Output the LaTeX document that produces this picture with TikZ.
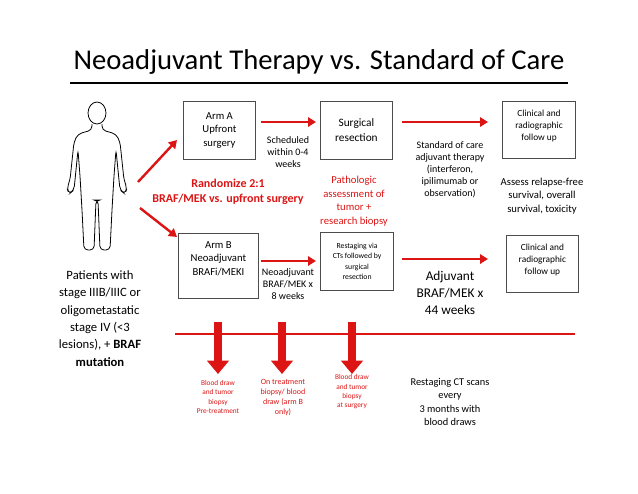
\documentclass[tikz,border=0pt]{standalone}
\usepackage{fontspec}
\setmainfont{Carlito}
\usetikzlibrary{arrows.meta,calc}
\definecolor{rd}{RGB}{220,20,20}
\begin{document}
\begin{tikzpicture}[x=0.75pt,y=-0.75pt,
 box/.style={draw=black!70,line width=0.6pt,align=center,inner sep=0pt,anchor=north west},
 arr/.style={rd,line width=1.8pt,-{Triangle[length=6pt,width=7pt]}},
 big/.style={rd,line width=6pt,-{Triangle[length=10pt,width=16pt]}},
 lbl/.style={align=center,font=\fontsize{7.5}{9}\selectfont},
 rl/.style={align=center,text=rd,font=\fontsize{5.5}{7}\selectfont}]
\useasboundingbox (0,0) rectangle (638,493);
\node[font=\fontsize{21.5}{24}\selectfont] (title) at (319,62) {Neoadjuvant Therapy vs. Standard of Care};
\draw[line width=0.8pt] (70,83) -- (568,83);
\node[box,minimum width=54pt,minimum height=43.5pt,font=\fontsize{8}{10}\selectfont] (a) at (183,101) {};
\node[align=center,font=\fontsize{8}{10}\selectfont] at (a.center) {Arm A\\Upfront\\surgery};
\node[box,minimum width=54pt,minimum height=43.5pt] (s) at (320,101) {};
\node[align=center,font=\fontsize{8.5}{11}\selectfont] at (s.center) {Surgical\\resection};
\node[box,minimum width=55pt,minimum height=43pt] (c1) at (502,101) {};
\node[align=center,font=\fontsize{7}{9}\selectfont,anchor=north] at ($(c1.north)+(0,4)$) {Clinical and\\radiographic\\follow up};
\node[box,minimum width=60pt,minimum height=49pt] (b) at (178,233) {};
\node[align=center,font=\fontsize{8}{10}\selectfont,anchor=north] at ($(b.north)+(0,4)$) {Arm B\\Neoadjuvant\\BRAFi/MEKI};
\node[box,minimum width=55pt,minimum height=43.5pt] (r) at (320,232) {};
\node[align=center,font=\fontsize{5.8}{7.6}\selectfont] at (r.center) {Restaging via\\CTs followed by\\surgical\\resection};
\node[box,minimum width=54pt,minimum height=43pt] (c2) at (506,235) {};
\node[align=center,font=\fontsize{7}{9}\selectfont,anchor=north] at ($(c2.north)+(0,4)$) {Clinical and\\radiographic\\follow up};
% person
\draw[line width=0.6pt,fill=white] (97,113) circle[x radius=9,y radius=11];
\draw[line width=0.6pt,rounded corners=3pt] (92,124) -- (92,130) -- (78,134) -- (74,142) -- (70,180) -- (67,188) -- (69,194) -- (74,190) -- (78,150) -- (80,176) -- (82,210) -- (84,250) -- (94,250) -- (96,200) -- (98,200) -- (100,250) -- (110,250) -- (112,210) -- (114,176) -- (116,150) -- (120,190) -- (125,194) -- (127,188) -- (124,180) -- (120,142) -- (116,134) -- (102,130) -- (102,124);
\node[align=center,font=\fontsize{9.5}{13}\selectfont,anchor=north] (pt) at (100,266) {Patients with\\stage IIIB/IIIC or\\oligometastatic\\stage IV (<3\\lesions), + \textbf{BRAF}\\\textbf{mutation}};
\coordinate (p1) at (138,182); \coordinate (p2) at (140,208);
\draw[arr] (p1) -- (177,140);
\draw[arr] (p2) -- (177,237);
\draw[arr] (a.east |- 0,122) ++(5,0) -- (316,122);
\draw[arr] (402,122) -- (488,122);
\draw[arr] (b.east |- 0,261) ++(2,0) -- (316,261);
\draw[arr] (402,259) -- (488,259);
\node[lbl] at (288,152) {Scheduled\\within 0-4\\weeks};
\node[text=rd,font=\bfseries\fontsize{9}{11.5}\selectfont,align=center] at (228,192) {Randomize 2:1\\BRAF/MEK vs. upfront surgery};
\node[lbl,text=rd,font=\fontsize{8}{10.2}\selectfont] at (354,201) {Pathologic\\assessment of\\tumor +\\research biopsy};
\node[lbl] at (450,170) {Standard of care\\adjuvant therapy\\(interferon,\\ipilimumab or\\observation)};
\node[lbl,font=\fontsize{8}{10.2}\selectfont] at (542,196) {Assess relapse-free\\survival, overall\\survival, toxicity};
\node[lbl] at (288,284) {Neoadjuvant\\BRAF/MEK x\\8 weeks};
\node[align=center,font=\fontsize{10}{12.5}\selectfont] at (450,293) {Adjuvant\\BRAF/MEK x\\44 weeks};
\draw[rd,line width=1.8pt] (175,334) coordinate (t0) -- (575,334) coordinate (t1);
\foreach \x/\n in {218/d1,282/d2,352/d3} {\coordinate (\n) at (\x,322); \draw[big] (\n) -- (\x,374);}
\node[rl] at (218,397) {Blood draw\\and tumor\\biopsy\\Pre-treatment};
\node[rl,font=\fontsize{6}{7.5}\selectfont] at (283,398) {On treatment\\biopsy/ blood\\draw (arm B\\only)};
\node[rl] at (352,392) {Blood draw\\and tumor\\biopsy\\at surgery};
\node[lbl,font=\fontsize{7.8}{10}\selectfont] at (450,402) {Restaging CT scans\\every\\3 months with\\blood draws};
\end{tikzpicture}
\end{document}
